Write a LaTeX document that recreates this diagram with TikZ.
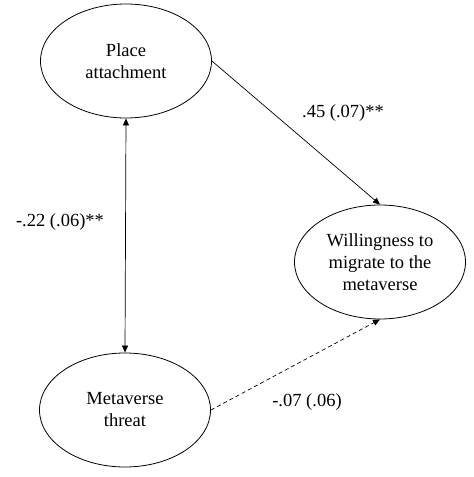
\documentclass[tikz,border=0pt]{standalone}
\usepackage{fontspec}
\setmainfont{Liberation Serif}
\usetikzlibrary{arrows.meta,shapes.geometric}

\begin{document}
\begin{tikzpicture}[x=1pt,y=1pt,>={Triangle[length=7pt,width=6pt]},
  every node/.style={font=\fontsize{18.5}{22}\selectfont},
  latent/.style={draw,ellipse,line width=.8pt,minimum width=171pt,minimum height=114pt,inner sep=0pt,align=center}]
\useasboundingbox (0,0) rectangle (474,477);
\node[latent] (pa) at (126,416) {Place\\attachment};
\node[latent] (wm) at (380,215) {Willingness to\\migrate to the\\metaverse};
\node[latent] (mt) at (125,67) {Metaverse\\threat};
\draw[line width=.7pt,<->] (pa.south) -- (mt.north);
\draw[line width=.7pt,->] (pa.east) -- (wm.north);
\draw[line width=.7pt,->,dash pattern=on 4pt off 3pt] (mt.east) -- (wm.south);
\node (b1) at (343,364) {.45 (.07)**};
\node (b2) at (60,255) {-.22 (.06)**};
\node (b3) at (307,75) {-.07 (.06)};
\end{tikzpicture}
\end{document}
